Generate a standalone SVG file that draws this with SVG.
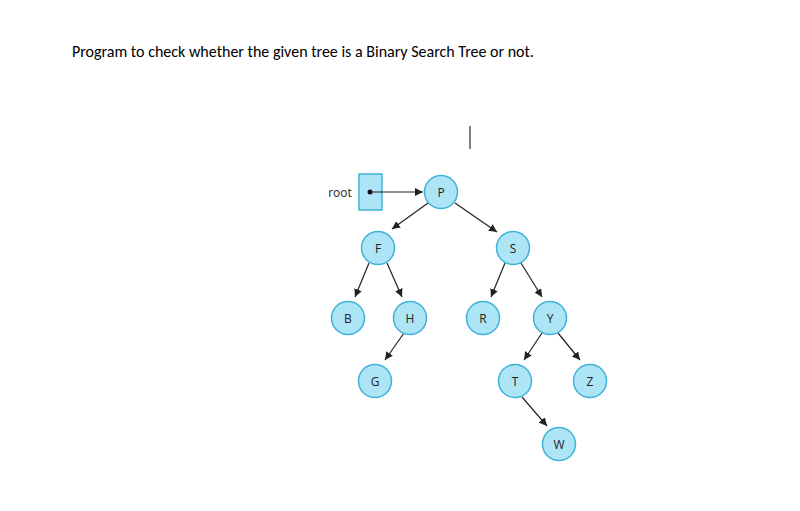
<svg xmlns="http://www.w3.org/2000/svg" width="800" height="511" viewBox="0 0 800 511">
<style>
.n{fill:#aee5f6;stroke:#3fb2d9;stroke-width:1.5}
.t{font-family:"Open Sans","Liberation Sans",sans-serif;font-size:12px;fill:#222;text-anchor:middle;dominant-baseline:central}
.c line{stroke:#222;stroke-width:1.2;marker-end:url(#a)}
</style>
<defs><marker id="a" viewBox="0 0 10 10" refX="10" refY="5" markerWidth="8" markerHeight="8" markerUnits="userSpaceOnUse" orient="auto"><path d="M0,0L10,5L0,10z" fill="#222"/></marker></defs>
<rect width="800" height="511" fill="#fff"/>
<text x="72" y="57" font-family="Calibri,Carlito,'Liberation Sans',sans-serif" font-size="16" fill="#000">Program to check whether the given tree is a Binary Search Tree or not.</text>
<line x1="470" y1="126" x2="470" y2="149" stroke="#000" stroke-width="1"/>
<g id="rootbox"><text x="340" y="192" class="t" style="font-size:12px">root</text><rect x="359" y="174" width="23" height="36" class="n"/><circle cx="370" cy="192" r="2.5" fill="#111"/></g>
<g class="c">
<line x1="370" y1="192" x2="423" y2="192"/>
<line x1="428" y1="203" x2="392" y2="229"/>
<line x1="455" y1="203" x2="497" y2="232"/>
<line x1="369" y1="263" x2="355" y2="297"/>
<line x1="387" y1="263" x2="402" y2="297"/>
<line x1="505" y1="263" x2="491" y2="297"/>
<line x1="521" y1="263" x2="542" y2="297"/>
<line x1="404" y1="333" x2="385" y2="360"/>
<line x1="542" y1="333" x2="524" y2="360"/>
<line x1="558" y1="333" x2="580" y2="360"/>
<line x1="522" y1="397" x2="547" y2="426"/>
</g>
<g id="P"><circle cx="441" cy="192" r="16.5" class="n"/><text x="441" y="192" class="t">P</text></g>
<g id="F"><circle cx="378" cy="248" r="16.5" class="n"/><text x="378" y="248" class="t">F</text></g>
<g id="S"><circle cx="513" cy="248" r="16.5" class="n"/><text x="513" y="248" class="t">S</text></g>
<g id="B"><circle cx="348" cy="318" r="16.5" class="n"/><text x="348" y="318" class="t">B</text></g>
<g id="H"><circle cx="410" cy="318" r="16.5" class="n"/><text x="410" y="318" class="t">H</text></g>
<g id="R"><circle cx="483" cy="318" r="16.5" class="n"/><text x="483" y="318" class="t">R</text></g>
<g id="Y"><circle cx="550" cy="318" r="16.5" class="n"/><text x="550" y="318" class="t">Y</text></g>
<g id="G"><circle cx="375" cy="381" r="16.5" class="n"/><text x="375" y="381" class="t">G</text></g>
<g id="T"><circle cx="515" cy="381" r="16.5" class="n"/><text x="515" y="381" class="t">T</text></g>
<g id="Z"><circle cx="590" cy="381" r="16.5" class="n"/><text x="590" y="381" class="t">Z</text></g>
<g id="W"><circle cx="559" cy="444" r="16.5" class="n"/><text x="559" y="444" class="t">W</text></g>
</svg>
